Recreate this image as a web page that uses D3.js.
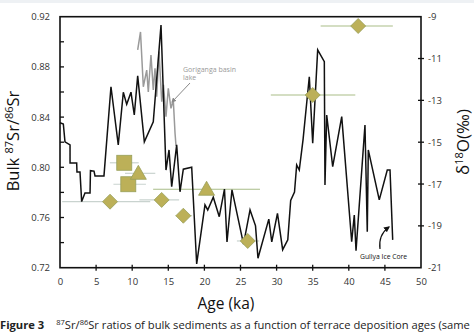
<!DOCTYPE html>
<html><head><meta charset="utf-8">
<script src="https://cdn.jsdelivr.net/npm/d3@7"></script>
<style>body{margin:0;background:#fff}svg{display:block}</style>
</head><body>
<script>
// Gulyia ice core δ18O (right axis)
const iceAge = [0,0.46,0.69,1.39,1.39,2.31,2.35,2.77,3.0,3.46,4.16,4.22,4.71,4.85,6.09,7.06,8.07,8.77,9.24,9.83,10.29,10.76,11.68,12.92,13.99,14.68,15.1,15.47,16.16,16.62,17.08,18.24,18.93,20.08,20.46,21.23,22.06,22.78,23.13,23.82,25.42,26.32,27.08,27.42,28.92,29.33,30.12,30.84,31.55,31.95,32.48,32.78,33.14,33.66,34.53,35.0,35.69,36.61,36.7,36.94,37.77,39.02,40.4,40.76,41.0,42.24,42.56,42.7,44.22,45.33,45.71,46.08];
const iceD18O = [-14.07,-14.13,-14.98,-15.13,-15.99,-15.99,-16.42,-16.42,-17.84,-17.43,-17.43,-16.36,-16.38,-16.61,-16.61,-12.35,-15.13,-12.61,-13.19,-12.61,-13.7,-11.83,-14.98,-14.02,-9.4,-16.33,-15.37,-17.13,-15.13,-17.37,-16.29,-16.2,-20.82,-18.0,-18.24,-17.63,-18.56,-17.24,-19.77,-17.28,-19.87,-18.24,-19.0,-20.55,-18.68,-19.77,-18.4,-20.14,-19.67,-17.79,-17.38,-16.09,-16.33,-14.89,-11.87,-15.05,-10.59,-11.15,-17.05,-13.7,-16.17,-13.78,-19.76,-18.48,-20.19,-14.18,-19.28,-15.37,-17.76,-16.33,-16.33,-19.67];
// Goriganga basin lake (right axis)
const lakeAge = [10.76,11.15,11.54,12.01,12.23,12.6,12.92,13.16,13.39,13.71,14.09,14.33,14.68,15.0,15.37,15.69,15.93,16.07];
const lakeD18O = [-10.59,-9.73,-12.35,-11.55,-12.6,-10.83,-12.5,-11.47,-12.82,-10.67,-13.06,-12.26,-13.78,-12.42,-13.38,-12.98,-14.56,-15.18];
// Terrace samples (left axis)
const sampleShape = ["diamond","square","square","triangle","diamond","diamond","triangle","diamond","diamond","diamond"];
const sampleAge   = [6.93,8.9,9.46,10.85,14.08,17.08,20.3,26.0,35.0,41.3];
const sampleSr    = [0.7726,0.8036,0.7865,0.7952,0.774,0.7614,0.7825,0.7413,0.8576,0.9126];
const sampleAgeLo = [0.3,6.9,7.4,9.0,11.0,16.0,12.9,24.5,29.2,36.1];
const sampleAgeHi = [12.5,10.9,11.9,13.2,16.5,18.3,27.7,27.6,40.9,46.1];
const xTicks = [0,5,10,15,20,25,30,35,40,45,50];
const srTicks = [0.72,0.76,0.80,0.84,0.88,0.92];
const oTicks = [-9,-11,-13,-15,-17,-19,-21];

const W=474,H=332;
const svg=d3.select("body").append("svg").attr("width",W).attr("height",H);
svg.append("rect").attr("width",W).attr("height",3).attr("fill","#eef1f4");
const L=60,R=421,T=16.7,B=267.7;
const x=d3.scaleLinear([0,50],[L,R]);
const ySr=d3.scaleLinear([0.72,0.92],[B,T]);
const yO=d3.scaleLinear([-21,-9],[B,T]);
const font="'Open Sans', sans-serif";

// error bars
const eb=svg.append("g");
sampleAge.forEach((a,i)=>{
  eb.append("line").attr("x1",x(sampleAgeLo[i])).attr("x2",x(sampleAgeHi[i]))
    .attr("y1",ySr(sampleSr[i])).attr("y2",ySr(sampleSr[i]))
    .attr("stroke",(i===6||i===8||i===9)?"#a9bd88":"#c9d3cf").attr("stroke-width",1.2);
});

// lines
svg.append("path").datum(lakeAge.map((a,i)=>[a,lakeD18O[i]]))
  .attr("d",d3.line().x(d=>x(d[0])).y(d=>yO(d[1])))
  .attr("fill","none").attr("stroke","#9a9a9a").attr("stroke-width",1.5);
svg.append("path").datum(iceAge.map((a,i)=>[a,iceD18O[i]]))
  .attr("d",d3.line().x(d=>x(d[0])).y(d=>yO(d[1])))
  .attr("fill","none").attr("stroke","#111").attr("stroke-width",1.5).attr("stroke-linejoin","miter");

// markers
const mk=svg.append("g");
sampleAge.forEach((a,i)=>{
  const cx=x(a),cy=ySr(sampleSr[i]),s=sampleShape[i];
  let p;
  if(s==="square") p=mk.append("rect").attr("x",cx-7.5).attr("y",cy-7.5).attr("width",15).attr("height",15);
  else if(s==="triangle") p=mk.append("path").attr("d",`M${cx},${cy-8}L${cx+8},${cy+6}L${cx-8},${cy+6}Z`);
  else p=mk.append("path").attr("d",`M${cx},${cy-7.5}L${cx+7.5},${cy}L${cx},${cy+7.5}L${cx-7.5},${cy}Z`);
  p.attr("fill","#bcb058").attr("stroke","#98a05a").attr("stroke-width",0.8);
});

// frame
svg.append("rect").attr("x",L).attr("y",T).attr("width",R-L).attr("height",B-T)
  .attr("fill","none").attr("stroke","#111").attr("stroke-width",1.6);

// axes
const gx=svg.append("g").attr("transform",`translate(0,${B})`)
  .call(d3.axisBottom(x).tickValues(xTicks).tickSize(0).tickPadding(11).tickFormat(d3.format("d")));
const gl=svg.append("g").attr("transform",`translate(${L},0)`)
  .call(d3.axisLeft(ySr).tickValues(srTicks).tickSize(0).tickPadding(10).tickFormat(d3.format(".2f")));
const gr=svg.append("g").attr("transform",`translate(${R},0)`)
  .call(d3.axisRight(yO).tickValues(oTicks).tickSize(0).tickPadding(7).tickFormat(d=>d<0?"-"+Math.abs(d):d));
[gx,gl,gr].forEach(g=>{g.select(".domain").remove();
  g.selectAll("text").attr("font-family",font).attr("font-size",9.5).attr("fill","#333");});
// tick marks
const tk=svg.append("g").attr("stroke","#111").attr("stroke-width",1.3);
xTicks.slice(1,-1).forEach(v=>tk.append("line").attr("x1",x(v)).attr("x2",x(v)).attr("y1",B-3).attr("y2",B+3));
d3.range(0.74,0.915,0.02).forEach(v=>tk.append("line").attr("x1",L).attr("x2",L+4).attr("y1",ySr(v)).attr("y2",ySr(v)));
oTicks.slice(1,-1).forEach(v=>tk.append("line").attr("x1",R-3).attr("x2",R+3).attr("y1",yO(v)).attr("y2",yO(v)));

// axis titles
const lt=svg.append("text").attr("transform","translate(19,141) rotate(-90)")
  .attr("text-anchor","middle").attr("font-family",font).attr("font-size",16.5).attr("fill","#111");
lt.append("tspan").text("Bulk ");
lt.append("tspan").attr("font-size",11).attr("dy",-6).text("87");
lt.append("tspan").attr("dy",6).text("Sr/");
lt.append("tspan").attr("font-size",11).attr("dy",-6).text("86");
lt.append("tspan").attr("dy",6).text("Sr");
const rt=svg.append("text").attr("transform","translate(469,142) rotate(-90)")
  .attr("text-anchor","middle").attr("font-family",font).attr("font-size",17).attr("fill","#111");
rt.append("tspan").text("δ");
rt.append("tspan").attr("font-size",11).attr("dy",-6).text("18");
rt.append("tspan").attr("dy",6).text("O(‰)");
svg.append("text").attr("x",226).attr("y",309).attr("text-anchor","middle")
  .attr("font-family",font).attr("font-size",15.5).attr("fill","#111").text("Age (ka)");

// annotations
svg.append("text").attr("x",183).attr("y",72).attr("font-family",font).attr("font-size",7).attr("fill","#999").text("Goriganga basin");
svg.append("text").attr("x",183).attr("y",80).attr("font-family",font).attr("font-size",7).attr("fill","#999").text("lake");
svg.append("defs").html('<marker id="ag" viewBox="0 0 10 10" refX="8" refY="5" markerWidth="5" markerHeight="5" orient="auto"><path d="M0,0L10,5L0,10z" fill="#888"/></marker><marker id="ab" viewBox="0 0 10 10" refX="8" refY="5" markerWidth="5" markerHeight="5" orient="auto"><path d="M0,0L10,5L0,10z" fill="#111"/></marker>');
svg.append("line").attr("x1",190).attr("y1",83).attr("x2",172).attr("y2",102).attr("stroke","#888").attr("stroke-width",1).attr("marker-end","url(#ag)");
svg.append("path").attr("d","M380,249 Q378,235 389,227").attr("fill","none").attr("stroke","#111").attr("stroke-width",1.2).attr("marker-end","url(#ab)");
svg.append("text").attr("x",360).attr("y",259).attr("font-family",font).attr("font-size",6.8).attr("fill","#111").text("Gullya Ice Core");

// caption
const cap=svg.append("text").attr("x",0).attr("y",329).attr("font-family",font).attr("font-size",11.2).attr("fill","#222");
cap.append("tspan").attr("font-weight","bold").text("Figure 3");
cap.append("tspan").attr("dx",12).attr("font-size",7.5).attr("dy",-4.5).text("87");
cap.append("tspan").attr("dy",4.5).text("Sr/");
cap.append("tspan").attr("font-size",7.5).attr("dy",-4.5).text("86");
cap.append("tspan").attr("dy",4.5).text("Sr ratios of bulk sediments as a function of terrace deposition ages (same");
</script>
</body></html>
